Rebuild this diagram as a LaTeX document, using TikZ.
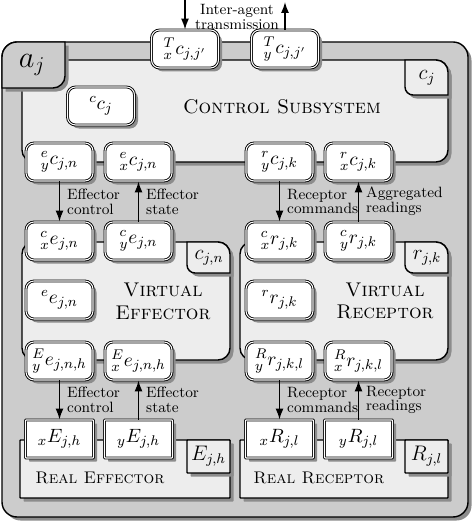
\documentclass[tikz,border=0pt]{standalone}
\usepackage{amsmath}
\usepackage{tikz}
\usetikzlibrary{arrows.meta,shadows,fit}

\begin{document}
\begin{tikzpicture}[x=0.02cm,y=0.02cm,
  shd/.style={drop shadow={shadow xshift=2pt,shadow yshift=-2pt,fill=black!45,opacity=1}},
  box/.style={draw,line width=0.8pt,fill=black!7,rounded corners=0.24cm,inner sep=0pt,shd},
  rbox/.style={draw,line width=0.8pt,fill=black!7,rounded corners=0.4pt,inner sep=0pt,shd},
  tag/.style={draw,line width=0.8pt,fill=black!7,shd},
  rtag/.style={tag,rounded corners=0.4pt,minimum width=0.86cm,minimum height=0.66cm,inner sep=0pt,font=\fontsize{12}{14}\selectfont},
  tagl/.style={font=\fontsize{12}{14}\selectfont,inner sep=0pt},
  port/.style={draw,fill=white,rounded corners=0.16cm,double,line width=0.5pt,double distance=0.6pt,minimum width=1.34cm,minimum height=0.76cm,inner sep=1pt,font=\fontsize{11}{13}\selectfont,shd},
  rport/.style={draw,fill=white,rounded corners=0.4pt,double,line width=0.5pt,double distance=0.6pt,minimum width=1.36cm,minimum height=0.76cm,inner sep=1pt,font=\fontsize{11}{13}\selectfont,shd},
  title/.style={font=\fontsize{11.3}{13}\selectfont\scshape,align=center,inner sep=0pt},
  rtitle/.style={font=\fontsize{9.6}{12}\selectfont\scshape,inner sep=0pt},
  lbl/.style={font=\fontsize{8.5}{8.4}\selectfont,align=left,inner sep=1pt},
  arr/.style={-{Latex[length=2.2mm,width=1.6mm]},line width=0.8pt}]
\useasboundingbox (0,0) rectangle (474,523);
% agent
\node[box,fill=black!20,rounded corners=0.3cm,fit={(2,6) (468,481)}] (agent) {};
% control subsystem
\node[box,fit={(22,361) (448,463)}] (ctrl) {};
\draw[tag] (405,463) -- (405,436) arc[start angle=180,end angle=270,radius=8] -- (448,428) -- (448,451) arc[start angle=0,end angle=90,radius=12] -- cycle;
\node[tagl] (cjl) at (427,445) {$c_j$};
\node[title] (ctrlt) at (282,416) {Control Subsystem};
% agent tag
\draw[tag,fill=black!20] (2,466) -- (2,435) -- (53,435) arc[start angle=270,end angle=360,radius=12] -- (65,481) -- (17,481) arc[start angle=90,end angle=180,radius=15] -- cycle;
\node[font=\fontsize{18}{20}\selectfont,inner sep=0pt] (ajl) at (32,458) {$a_j$};
% virtual effector / receptor
\node[box,fit={(22,163) (230,281)}] (veff) {};
\draw[tag] (187,281) -- (187,258) arc[start angle=180,end angle=270,radius=8] -- (230,250) -- (230,269) arc[start angle=0,end angle=90,radius=12] -- cycle;
\node[tagl] (cjnl) at (209,265) {$c_{j,n}$};
\node[title] (vefft) at (163,222) {Virtual\\Effector};
\node[box,fit={(240,163) (448,281)}] (vrec) {};
\draw[tag] (405,281) -- (405,258) arc[start angle=180,end angle=270,radius=8] -- (448,250) -- (448,269) arc[start angle=0,end angle=90,radius=12] -- cycle;
\node[tagl] (rjkl) at (427,265) {$r_{j,k}$};
\node[title] (vrect) at (385,222) {Virtual\\Receptor};
% real effector / receptor
\node[rbox,fit={(20,25) (230,83)}] (reff) {};
\node[rtag,anchor=north east] (Ejh) at (reff.north east) {$E_{j,h}$};
\node[rtitle,anchor=west] (refft) at (35,45) {Real Effector};
\node[rbox,fit={(240,25) (448,83)}] (rrec) {};
\node[rtag,anchor=north east] (Rjl) at (rrec.north east) {$R_{j,l}$};
\node[rtitle,anchor=west] (rrect) at (253,45) {Real Receptor};
% ports
\node[port] (txc) at (185,474) {${}^{T}_{x}c_{j,j'}$};
\node[port] (tyc) at (285,474) {${}^{T}_{y}c_{j,j'}$};
\node[port] (ccj) at (101,417) {${}^{c}c_{j}$};
\node[port] (eyc) at (59.5,361) {${}^{e}_{y}c_{j,n}$};
\node[port] (exc) at (138.5,361) {${}^{e}_{x}c_{j,n}$};
\node[port] (ryc) at (279.5,361) {${}^{r}_{y}c_{j,k}$};
\node[port] (rxc) at (358.5,361) {${}^{r}_{x}c_{j,k}$};
\node[port] (cxe) at (59.5,282) {${}^{c}_{x}e_{j,n}$};
\node[port] (cye) at (138.5,282) {${}^{c}_{y}e_{j,n}$};
\node[port] (ece) at (59.5,223) {${}^{e}e_{j,n}$};
\node[port] (Eye) at (59.5,162) {${}^{E}_{y}e_{j,n,h}$};
\node[port] (Exe) at (138.5,162) {${}^{E}_{x}e_{j,n,h}$};
\node[port] (cxr) at (279.5,282) {${}^{c}_{x}r_{j,k}$};
\node[port] (cyr) at (358.5,282) {${}^{c}_{y}r_{j,k}$};
\node[port] (rrr) at (279.5,223) {${}^{r}r_{j,k}$};
\node[port] (Ryr) at (279.5,162) {${}^{R}_{y}r_{j,k,l}$};
\node[port] (Rxr) at (358.5,162) {${}^{R}_{x}r_{j,k,l}$};
\node[rport] (xE) at (59.5,84) {${}_{x}E_{j,h}$};
\node[rport] (yE) at (138.5,84) {${}_{y}E_{j,h}$};
\node[rport] (xR) at (279.5,84) {${}_{x}R_{j,l}$};
\node[rport] (yR) at (358.5,84) {${}_{y}R_{j,l}$};
% inter-agent
\coordinate (tin) at (185,523);
\coordinate (tout) at (285,521);
\draw[arr] (tin) -- (txc.north);
\draw[arr] (tyc.north) -- (tout);
\node[lbl,align=center] (trl) at (237,506) {Inter-agent\\transmission};
% control <-> virtual
\draw[arr] (eyc.south) -- node[lbl,right=3pt]{Effector\\control} (cxe.north);
\draw[arr] (cye.north) -- node[lbl,right=3pt]{Effector\\state} (exc.south);
\draw[arr] (ryc.south) -- node[lbl,right=3pt]{Receptor\\commands} (cxr.north);
\draw[arr] (cyr.north) -- node[lbl,right=3pt]{Aggregated\\readings} (rxc.south);
% virtual <-> real
\draw[arr] (Eye.south) -- node[lbl,right=3pt]{Effector\\control} (xE.north);
\draw[arr] (yE.north) -- node[lbl,right=3pt]{Effector\\state} (Exe.south);
\draw[arr] (Ryr.south) -- node[lbl,right=3pt]{Receptor\\commands} (xR.north);
\draw[arr] (yR.north) -- node[lbl,right=3pt]{Receptor\\readings} (Rxr.south);
\end{tikzpicture}
\end{document}
